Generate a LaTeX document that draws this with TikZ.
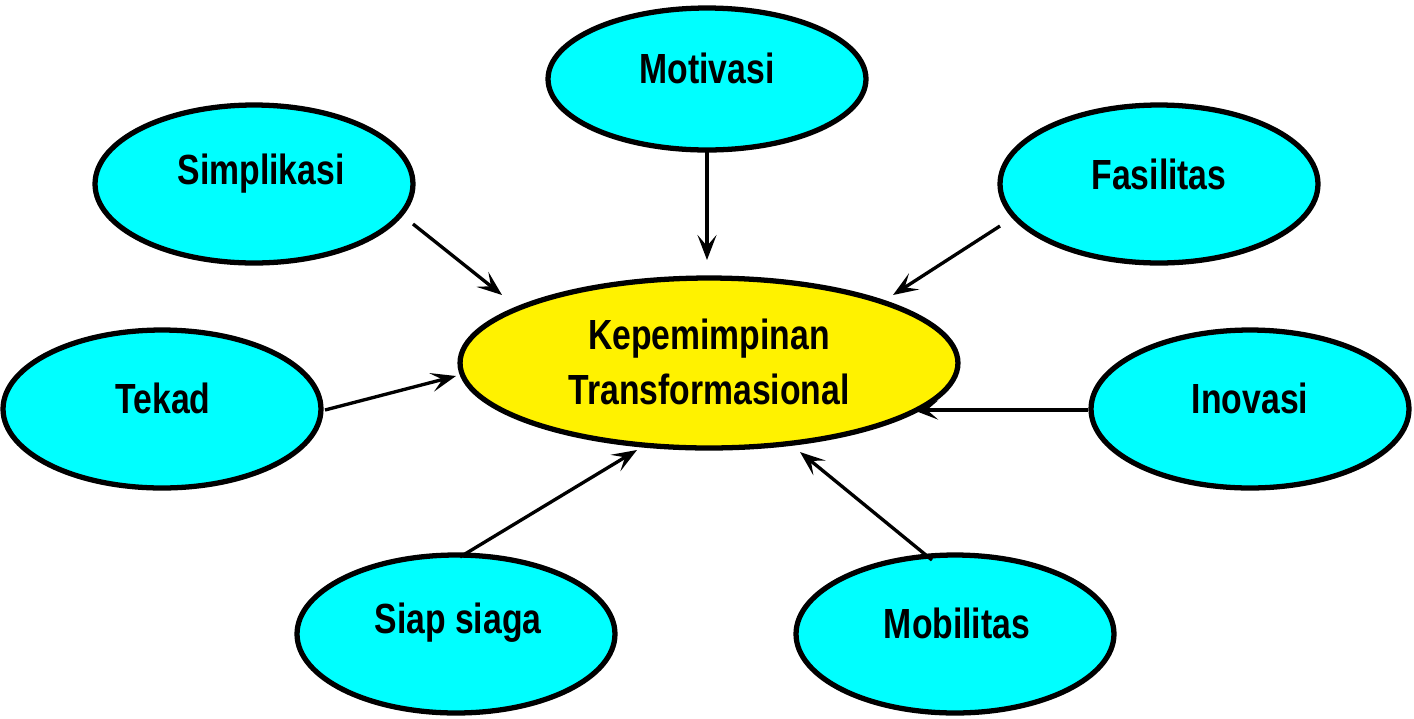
\documentclass[tikz,border=0pt]{standalone}
\usepackage{fontspec}
\setmainfont{Liberation Sans}[FakeStretch=0.8]
\usetikzlibrary{shapes.geometric,arrows.meta}
\definecolor{cy}{RGB}{0,255,255}
\begin{document}
\begin{tikzpicture}[x=0.02cm,y=-0.02cm,
  bub/.style={ellipse,draw=black,line width=3pt,fill=cy,minimum width=#1},
  bub/.default={6.36cm},
  lbl/.style={font=\bfseries\fontsize{24}{29}\selectfont,align=center},
  arr/.style={line width=1.9pt,-{Stealth[length=5mm,width=3.8mm,inset=2.2mm]}}]
\useasboundingbox (0,0) rectangle (1414,718);
\node[bub,fill=yellow,minimum width=9.96cm,minimum height=3.4cm] (c) at (709,363) {};
\node[lbl] (ct) at (709,362) {Kepemimpinan\\[2pt]Transformasional};
\node[bub,minimum height=2.84cm] (mot) at (707,79) {};
\node[lbl] (motl) at (707,68) {Motivasi};
\node[bub,minimum height=3.16cm] (sim) at (254,184) {};
\node[lbl] (siml) at (261,174) {Simplikasi};
\node[bub,minimum height=3.16cm] (fas) at (1159,184) {};
\node[lbl] (fasl) at (1159,174) {Fasilitas};
\node[bub,minimum height=3.16cm] (tek) at (162,409) {};
\node[lbl] (tekl) at (163,398) {Tekad};
\node[bub,minimum height=3.16cm] (ino) at (1250,409) {};
\node[lbl] (inol) at (1250,398) {Inovasi};
\node[bub,minimum height=3.16cm] (sia) at (456,634) {};
\node[lbl] (sial) at (458,623) {Siap siaga};
\node[bub,minimum height=3.16cm] (mob) at (955,634) {};
\node[lbl] (mobl) at (957,623) {Mobilitas};
\coordinate (a1) at (707,152); \coordinate (b1) at (707,260);
\coordinate (a2) at (413,224); \coordinate (b2) at (502,295);
\coordinate (a3) at (1000,226); \coordinate (b3) at (893,295);
\coordinate (a4) at (325,410); \coordinate (b4) at (456,376);
\coordinate (a5) at (1088,410); \coordinate (b5) at (913,410);
\coordinate (a6) at (460,557); \coordinate (b6) at (637,450);
\coordinate (a7) at (932,560); \coordinate (b7) at (800,452);
\foreach \i in {1,...,7}{\draw[arr] (a\i) -- (b\i);}
\end{tikzpicture}
\end{document}
